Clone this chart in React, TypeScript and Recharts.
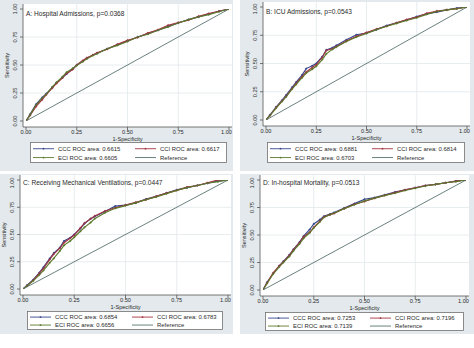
import { CartesianGrid, Label, Line, LineChart, XAxis, YAxis } from "recharts";

const FONT = "'Liberation Sans', Arial, sans-serif";
const BG = "#e3e9ec";
const INK = "#2a2a2a";

// false positive rate grid the curves were read at
const fpr = [0, 0.02, 0.05, 0.08, 0.1, 0.13, 0.15, 0.18, 0.2, 0.23, 0.25, 0.28, 0.3, 0.33, 0.35, 0.4, 0.45, 0.5, 0.55, 0.6, 0.65, 0.7, 0.75, 0.8, 0.85, 0.9, 0.95, 1];

// A: hospital admissions
const cccA = [0, 0.06, 0.15, 0.21, 0.245, 0.3, 0.34, 0.39, 0.42, 0.465, 0.5, 0.535, 0.56, 0.59, 0.605, 0.645, 0.68, 0.715, 0.75, 0.78, 0.81, 0.845, 0.875, 0.905, 0.93, 0.955, 0.98, 1];
const cciA = [0, 0.05, 0.13, 0.19, 0.235, 0.295, 0.335, 0.385, 0.425, 0.46, 0.5, 0.54, 0.565, 0.59, 0.61, 0.64, 0.685, 0.72, 0.745, 0.785, 0.815, 0.855, 0.88, 0.9, 0.935, 0.96, 0.98, 1];
const eciA = [0, 0.055, 0.145, 0.205, 0.24, 0.305, 0.345, 0.395, 0.435, 0.47, 0.495, 0.53, 0.555, 0.585, 0.6, 0.645, 0.675, 0.71, 0.75, 0.775, 0.81, 0.84, 0.875, 0.905, 0.93, 0.95, 0.975, 1];

// B: ICU admissions
const cccB = [0, 0.045, 0.115, 0.175, 0.22, 0.29, 0.335, 0.4, 0.455, 0.48, 0.5, 0.56, 0.62, 0.64, 0.66, 0.71, 0.755, 0.77, 0.8, 0.835, 0.86, 0.885, 0.915, 0.94, 0.955, 0.975, 0.99, 1];
const cciB = [0, 0.04, 0.11, 0.17, 0.21, 0.28, 0.325, 0.385, 0.425, 0.465, 0.49, 0.555, 0.615, 0.63, 0.65, 0.7, 0.74, 0.775, 0.805, 0.83, 0.86, 0.89, 0.91, 0.945, 0.965, 0.975, 0.985, 1];
const eciB = [0, 0.04, 0.105, 0.165, 0.205, 0.275, 0.315, 0.375, 0.415, 0.45, 0.475, 0.535, 0.585, 0.625, 0.645, 0.695, 0.735, 0.765, 0.8, 0.83, 0.855, 0.88, 0.905, 0.935, 0.96, 0.975, 0.985, 1];

// C: mechanical ventilation
const cccC = [0, 0.035, 0.085, 0.15, 0.2, 0.28, 0.33, 0.38, 0.44, 0.47, 0.5, 0.555, 0.6, 0.645, 0.665, 0.71, 0.76, 0.77, 0.79, 0.825, 0.85, 0.88, 0.91, 0.93, 0.95, 0.97, 0.99, 1];
const cciC = [0, 0.03, 0.08, 0.145, 0.19, 0.27, 0.32, 0.375, 0.425, 0.465, 0.495, 0.56, 0.605, 0.645, 0.67, 0.715, 0.745, 0.77, 0.795, 0.82, 0.85, 0.88, 0.905, 0.935, 0.95, 0.975, 1, 1];
const eciC = [0, 0.03, 0.075, 0.13, 0.17, 0.24, 0.28, 0.35, 0.4, 0.44, 0.475, 0.53, 0.565, 0.61, 0.645, 0.7, 0.74, 0.765, 0.79, 0.82, 0.845, 0.875, 0.905, 0.93, 0.95, 0.97, 0.985, 1];

// D: in-hospital mortality
const cccD = [0, 0.07, 0.15, 0.22, 0.26, 0.32, 0.37, 0.435, 0.49, 0.55, 0.6, 0.64, 0.67, 0.69, 0.705, 0.745, 0.785, 0.825, 0.84, 0.865, 0.89, 0.91, 0.93, 0.95, 0.96, 0.975, 0.99, 1];
const cciD = [0, 0.065, 0.155, 0.22, 0.255, 0.315, 0.365, 0.43, 0.485, 0.525, 0.57, 0.625, 0.665, 0.685, 0.695, 0.74, 0.78, 0.805, 0.835, 0.86, 0.885, 0.91, 0.93, 0.95, 0.96, 0.975, 0.99, 1];
const eciD = [0, 0.06, 0.145, 0.21, 0.25, 0.305, 0.355, 0.42, 0.47, 0.52, 0.565, 0.62, 0.66, 0.685, 0.7, 0.74, 0.775, 0.81, 0.835, 0.86, 0.88, 0.905, 0.925, 0.945, 0.96, 0.975, 0.985, 1];

const refX = [0, 1];
const refY = [0, 1];

const titles = [
  "A: Hospital Admissions, p=0.0368",
  "B: ICU Admissions, p=0.0543",
  "C: Receiving Mechanical Ventilations, p=0.0447",
  "D: In-hospital Mortality, p=0.0513",
];
const aucA = ["0.6615", "0.6617", "0.6605"];
const aucB = ["0.6881", "0.6814", "0.6703"];
const aucC = ["0.6854", "0.6783", "0.6656"];
const aucD = ["0.7253", "0.7196", "0.7139"];

const ticks = [0, 0.25, 0.5, 0.75, 1];
const gridValues = [0.25, 0.5, 0.75];

const COLORS = { ccc: "#36468c", cci: "#a5323e", eci: "#5d7a2c", ref: "#587470" };

const pts = (xs: number[], ys: number[]) => ys.map((y, i) => ({ x: xs[i], y }));

interface PanelSpec {
  left: number; top: number; width: number; height: number;
  chartHeight: number; mt: number; mr: number; yw: number;
  legend: { x: number; y: number; w: number; h: number };
  titleAt: { x: number; y: number };
  title: string; auc: string[];
  ccc: number[]; cci: number[]; eci: number[];
}

const panels: PanelSpec[] = [
  { left: 0, top: 0, width: 233, height: 171, chartHeight: 142, mt: 4, mr: 1, yw: 23, legend: { x: 30, y: 142, w: 197, h: 21 }, titleAt: { x: 26, y: 15.5 }, title: titles[0], auc: aucA, ccc: cccA, cci: cciA, eci: eciA },
  { left: 240, top: 0, width: 234, height: 171, chartHeight: 141, mt: 2, mr: 4, yw: 23, legend: { x: 27, y: 142, w: 198, h: 21 }, titleAt: { x: 26, y: 14 }, title: titles[1], auc: aucB, ccc: cccB, cci: cciB, eci: eciB },
  { left: 0, top: 174, width: 233, height: 160, chartHeight: 136, mt: 1, mr: 2, yw: 20, legend: { x: 27, y: 137, w: 196, h: 19 }, titleAt: { x: 23, y: 10.5 }, title: titles[2], auc: aucC, ccc: cccC, cci: cciC, eci: eciC },
  { left: 240, top: 174, width: 234, height: 160, chartHeight: 137, mt: 1, mr: 5, yw: 20, legend: { x: 25, y: 138, w: 199, h: 19 }, titleAt: { x: 23, y: 11 }, title: titles[3], auc: aucD, ccc: cccD, cci: cciD, eci: eciD },
];

const XTick = (props: any) => {
  const v = Number(props.payload.value);
  return (
    <text x={props.x - (v === 1 ? 2.5 : 0)} y={props.y} dy="0.71em" textAnchor="middle" fontSize={5.6} fill={INK} fontFamily={FONT}>
      {v.toFixed(2)}
    </text>
  );
};

const YTick = (props: any) => {
  const cx = props.x - 4;
  return (
    <text x={cx} y={props.y} dy="0.35em" transform={`rotate(-90 ${cx} ${props.y})`} textAnchor="middle" fontSize={5.6} fill={INK} fontFamily={FONT}>
      {Number(props.payload.value).toFixed(2)}
    </text>
  );
};

function LegendSvg({ spec }: { spec: PanelSpec }) {
  const { x, y, w, h } = spec.legend;
  const r1 = h * 0.32, r2 = h * 0.74;
  const items = [
    { label: `CCC ROC area: ${spec.auc[0]}`, color: COLORS.ccc, cx: 3, row: r1, dot: true },
    { label: `CCI ROC area: ${spec.auc[1]}`, color: COLORS.cci, cx: 105, row: r1, dot: true },
    { label: `ECI ROC area: ${spec.auc[2]}`, color: COLORS.eci, cx: 3, row: r2, dot: true },
    { label: "Reference", color: COLORS.ref, cx: 105, row: r2, dot: false },
  ];
  return (
    <g transform={`translate(${x},${y})`}>
      <rect x={0.5} y={0.5} width={w - 1} height={h - 1} fill="#fff" stroke="#707070" strokeWidth={0.8} />
      {items.map((it) => (
        <g key={it.label}>
          <line x1={it.cx} x2={it.cx + 21} y1={it.row} y2={it.row} stroke={it.color} strokeWidth={0.9} />
          {it.dot && <circle cx={it.cx + 10.5} cy={it.row} r={0.9} fill={it.color} />}
          <text x={it.cx + 25} y={it.row} dy="0.35em" fontSize={5.9} fill={INK} fontFamily={FONT}>{it.label}</text>
        </g>
      ))}
    </g>
  );
}

function Panel({ spec }: { spec: PanelSpec }) {
  const series = [
    { key: "ccc", data: pts(fpr, spec.ccc), color: COLORS.ccc },
    { key: "cci", data: pts(fpr, spec.cci), color: COLORS.cci },
    { key: "eci", data: pts(fpr, spec.eci), color: COLORS.eci },
  ];
  return (
    <div style={{ position: "absolute", left: spec.left, top: spec.top, width: spec.width, height: spec.height, background: BG }}>
      <LineChart width={spec.width} height={spec.chartHeight} margin={{ top: spec.mt, right: spec.mr, bottom: 0, left: 0 }}>
        <CartesianGrid fill="#fff" stroke="#e2e8eb" strokeWidth={0.8} horizontalValues={gridValues} verticalValues={gridValues} />
        <XAxis type="number" dataKey="x" domain={[0, 1]} ticks={ticks} padding={{ left: 3, right: 3 }} height={15} tickSize={3} tickMargin={0} tick={<XTick />} stroke="#555" strokeWidth={0.8} allowDataOverflow>
          <Label
            content={(p: any) => (
              <text x={p.viewBox.x + p.viewBox.width / 2} y={p.viewBox.y + 14} textAnchor="middle" fontSize={5.6} fill={INK} fontFamily={FONT}>
                1-Specificity
              </text>
            )}
          />
        </XAxis>
        <XAxis xAxisId="top" orientation="top" type="number" domain={[0, 1]} height={0} tick={false} tickLine={false} stroke="#c4ccd0" strokeWidth={0.8} />
        <YAxis type="number" dataKey="y" domain={[0, 1]} ticks={ticks} padding={{ top: 5, bottom: 6 }} width={spec.yw} tickSize={3} tickMargin={1} tick={<YTick />} stroke="#555" strokeWidth={0.8} allowDataOverflow>
          <Label
            content={(p: any) => {
              const cx = p.viewBox.x + spec.yw - 16;
              const cy = p.viewBox.y + p.viewBox.height / 2;
              return (
                <text x={cx} y={cy} dy="0.35em" transform={`rotate(-90 ${cx} ${cy})`} textAnchor="middle" fontSize={5.6} fill={INK} fontFamily={FONT}>
                  Sensitivity
                </text>
              );
            }}
          />
        </YAxis>
        <YAxis yAxisId="right" orientation="right" type="number" domain={[0, 1]} width={0} tick={false} tickLine={false} stroke="#c4ccd0" strokeWidth={0.8} />
        {series.map((s) => (
          <Line key={s.key} data={s.data} dataKey="y" type="linear" stroke={s.color} strokeWidth={1.15} dot={{ r: 0.8, fill: s.color, stroke: s.color, strokeWidth: 0.4 }} isAnimationActive={false} />
        ))}
        <Line data={pts(refX, refY)} dataKey="y" type="linear" stroke={COLORS.ref} strokeWidth={0.9} dot={false} isAnimationActive={false} />
      </LineChart>
      <svg width={spec.width} height={spec.height} style={{ position: "absolute", left: 0, top: 0, pointerEvents: "none" }}>
        <text x={spec.titleAt.x} y={spec.titleAt.y} fontSize={6.6} fill={INK} fontFamily={FONT}>{spec.title}</text>
        <LegendSvg spec={spec} />
      </svg>
    </div>
  );
}

export default function App() {
  return (
    <div style={{ position: "absolute", left: 0, top: 0, width: 474, height: 348, background: "#fff" }}>
      {panels.map((p) => (
        <Panel key={p.title} spec={p} />
      ))}
    </div>
  );
}
